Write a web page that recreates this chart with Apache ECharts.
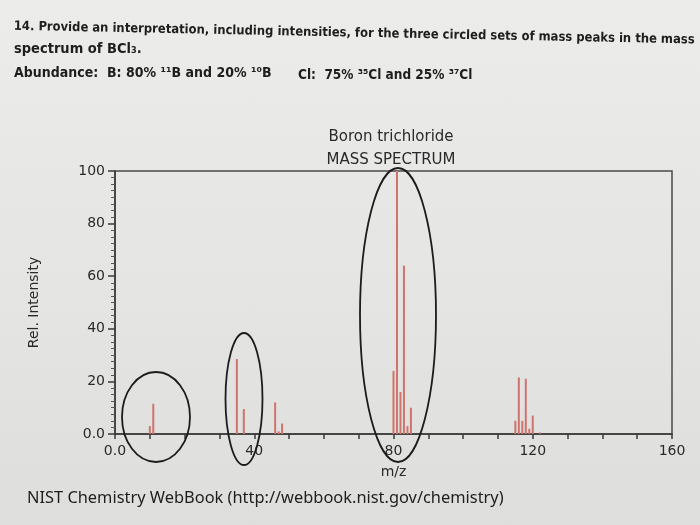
<!DOCTYPE html>
<html>
<head>
<meta charset="utf-8">
<script src="https://cdn.jsdelivr.net/npm/echarts@6/dist/echarts.min.js"></script>
<style>
  html, body { margin: 0; padding: 0; }
  body { background: linear-gradient(180deg, #ececeb 0%, #e4e4e3 60%, #dededd 100%); }
  #main { width: 700px; height: 525px; }
</style>
</head>
<body>
<div id="main"></div>
<script>
// peaks (m/z, relative intensity)
const mz = [10, 11, 35, 37, 46, 47, 48, 80, 81, 82, 83, 84, 85, 115, 116, 117, 118, 119, 120, 122];
const intensity = [3, 11.5, 28.5, 9.5, 12, 1, 4, 24, 100, 16, 64, 3, 10, 5, 21.5, 5, 21, 2, 7, 0.6];
const xTicks = [0, 40, 80, 120, 160];
const yTicks = [0, 20, 40, 60, 80, 100];

const chart = echarts.init(document.getElementById('main'));

const peaks = mz.map((m, i) => [m, intensity[i]]);
const txt = '#2a2a2a';
const numFont = 'DejaVu Sans, Verdana, sans-serif';
const headFont = '"Liberation Sans Narrow", "DejaVu Sans Condensed", "Open Sans", sans-serif';

const option = {
  backgroundColor: 'transparent',
  animation: false,
  grid: {
    left: 115, right: 28, top: 171, bottom: 91,
    show: true, borderColor: '#4a4a4a', borderWidth: 1.5
  },
  xAxis: {
    type: 'value',
    min: xTicks[0], max: xTicks[xTicks.length - 1], interval: 40,
    name: 'm/z', nameLocation: 'middle', nameGap: 31,
    nameTextStyle: { color: txt, fontSize: 14, fontFamily: numFont },
    axisLine: { show: true, lineStyle: { color: '#3a3a3a', width: 1.5 } },
    axisTick: { show: true, length: 5, lineStyle: { color: '#3a3a3a', width: 1.5 } },
    minorTick: { show: true, splitNumber: 4, length: 5, lineStyle: { color: '#3a3a3a', width: 1.5 } },
    splitLine: { show: false },
    axisLabel: {
      color: txt, fontSize: 14, fontFamily: numFont, margin: 10,
      formatter: v => (v === 0 ? '0.0' : String(v))
    }
  },
  yAxis: {
    type: 'value',
    min: yTicks[0], max: yTicks[yTicks.length - 1], interval: 20,
    name: 'Rel. Intensity', nameLocation: 'middle', nameGap: 74, nameRotate: 90,
    nameTextStyle: { color: txt, fontSize: 14, fontFamily: numFont },
    axisLine: { show: true, lineStyle: { color: '#3a3a3a', width: 1.5 } },
    axisTick: { show: true, length: 7, lineStyle: { color: '#3a3a3a', width: 1.5 } },
    minorTick: { show: true, splitNumber: 8, length: 4, lineStyle: { color: '#555', width: 1 } },
    splitLine: { show: false },
    axisLabel: {
      color: txt, fontSize: 14, fontFamily: numFont, margin: 10,
      formatter: v => (v === 0 ? '0.0' : String(v))
    }
  },
  series: [{
    type: 'bar',
    data: peaks,
    barWidth: 2,
    itemStyle: { color: '#cf746c' }
  }],
  graphic: [
    // worksheet text
    { type: 'text', x: 14, y: 20, rotation: -0.02,
      style: { text: '14. Provide an interpretation, including intensities, for the three circled sets of mass peaks in the mass',
               font: 'bold 12.9px ' + headFont, fill: '#1e1e1e' } },
    { type: 'text', x: 14, y: 42,
      style: { text: 'spectrum of BCl₃.', font: 'bold 14.5px ' + headFont, fill: '#1e1e1e' } },
    { type: 'text', x: 14, y: 66,
      style: { text: 'Abundance:  B: 80% ¹¹B and 20% ¹⁰B', font: 'bold 14px ' + headFont, fill: '#1e1e1e' } },
    { type: 'text', x: 298, y: 68,
      style: { text: 'Cl:  75% ³⁵Cl and 25% ³⁷Cl', font: 'bold 13.5px ' + headFont, fill: '#1e1e1e' } },
    // chart title
    { type: 'text', x: 391, y: 130,
      style: { text: 'Boron trichloride', font: '15px ' + numFont, fill: txt, textAlign: 'center' } },
    { type: 'text', x: 391, y: 153,
      style: { text: 'MASS SPECTRUM', font: '15px ' + numFont, fill: txt, textAlign: 'center' } },
    // footer
    { type: 'text', x: 27, y: 490,
      style: { text: 'NIST Chemistry WebBook (http://webbook.nist.gov/chemistry)', font: '16.4px "Noto Sans", "Open Sans", sans-serif', fill: '#1e1e1e' } },
    // hand-drawn circles
    { type: 'ellipse', shape: { cx: 156, cy: 417, rx: 34, ry: 45 },
      style: { fill: 'none', stroke: '#1c1c1c', lineWidth: 1.8 }, z: 10 },
    { type: 'ellipse', shape: { cx: 244, cy: 399, rx: 18.5, ry: 66 },
      style: { fill: 'none', stroke: '#1c1c1c', lineWidth: 1.8 }, z: 10 },
    { type: 'ellipse', shape: { cx: 398, cy: 315, rx: 38, ry: 147 },
      style: { fill: 'none', stroke: '#1c1c1c', lineWidth: 1.8 }, z: 10 }
  ]
};

chart.setOption(option);
</script>
</body>
</html>
